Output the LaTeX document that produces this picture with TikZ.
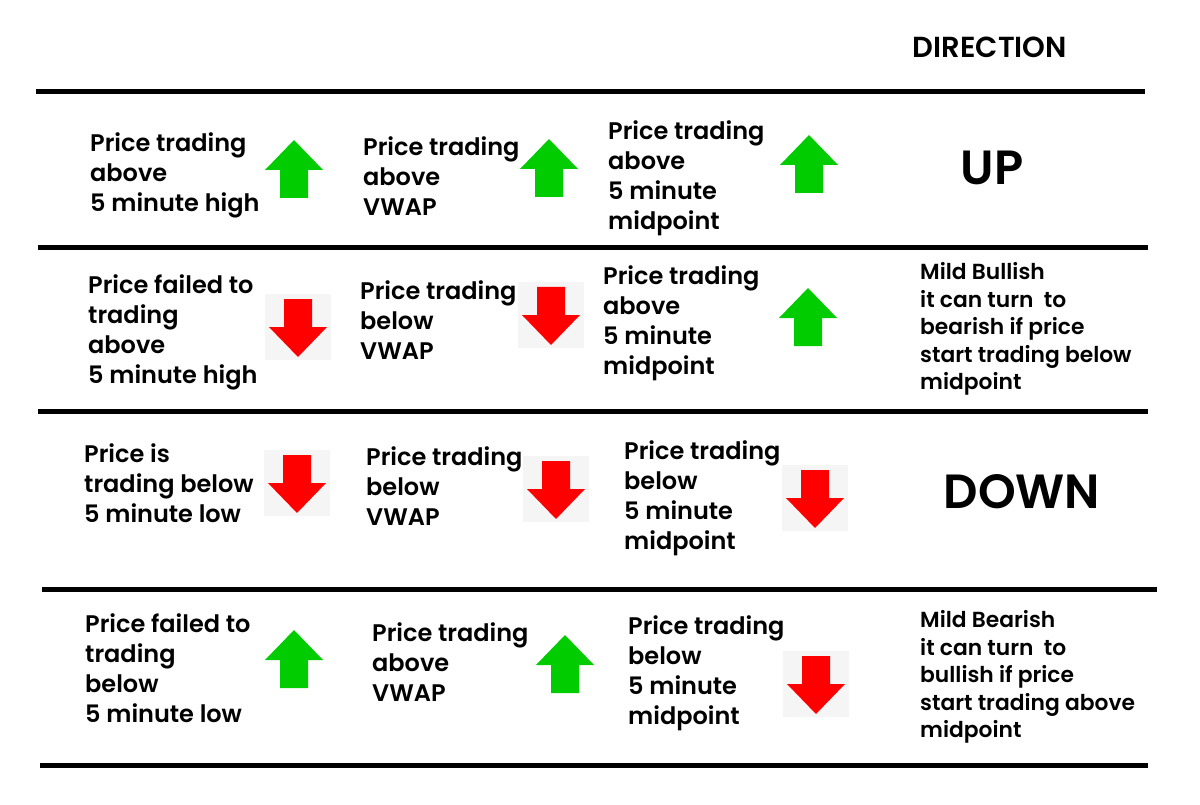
\documentclass[tikz,border=0pt]{standalone}
\usepackage{fontspec}
\setmainfont{Poppins}[UprightFont=* SemiBold,BoldFont=* SemiBold]
\begin{document}
\begin{tikzpicture}[x=1pt,y=-1pt,
  rule/.style={line width=5pt,black},
  txt/.style={anchor=west,align=left,inner sep=0pt,font=\fontsize{24}{30}\selectfont},
  small/.style={anchor=west,align=left,inner sep=0pt,font=\fontsize{21.8}{27.5}\selectfont},
  big/.style={inner sep=0pt,font=\fontsize{48}{50}\bfseries\selectfont}]
\useasboundingbox (0,0) rectangle (1200,805);
\fill[white] (0,0) rectangle (1200,805);
\newcommand\upA[1]{\begin{scope}[shift={(#1)}]\fill[fill={rgb,255:red,0;green,204;blue,0}] (0,-30)--(29,0)--(14,0)--(14,28)--(-14,28)--(-14,0)--(-29,0)--cycle;\end{scope}}
\newcommand\dnA[1]{\begin{scope}[shift={(#1)}]\fill[gray!8] (-33,-33) rectangle (33,33);\fill[red] (0,30)--(29,0)--(14,0)--(14,-28)--(-14,-28)--(-14,0)--(-29,0)--cycle;\end{scope}}
\node[inner sep=0pt,font=\fontsize{29}{30}\bfseries\selectfont] (dir) at (990,47) {DIRECTION};
\draw[rule] (36,92)--(1145,92);
\draw[rule] (38,248)--(1148,248);
\draw[rule] (38,411)--(1148,411);
\draw[rule] (42,589)--(1157,589);
\draw[rule] (40,765)--(1148,765);
% row1
\node[txt] (a1) at (90,175) {Price trading\\above\\5 minute high};
\upA{294,170}
\node[txt] (a2) at (363,176) {Price trading\\above\\VWAP};
\upA{549,169}
\node[txt] (a3) at (608,178) {Price trading\\above\\5 minute\\midpoint};
\upA{809,165}
\node[big] (up) at (992,168) {UP};
% row2
\node[txt] (b1) at (88,332) {Price failed to\\trading\\above\\5 minute high};
\dnA{298,327}
\node[txt] (b2) at (360,320) {Price trading\\below\\VWAP};
\dnA{551,315}
\node[txt] (b3) at (603,323) {Price trading\\above\\5 minute\\midpoint};
\upA{808,318}
\node[small] (b4) at (920,329) {Mild Bullish\\it can turn \ to\\bearish if price\\start trading below\\midpoint};
% row3
\node[txt] (c1) at (84,483) {Price is\\trading below\\5 minute low};
\dnA{297,483}
\node[txt] (c2) at (366,486) {Price trading\\below\\VWAP};
\dnA{556,489}
\node[txt] (c3) at (624,498) {Price trading\\below\\5 minute\\midpoint};
\dnA{815,498}
\node[big] (down) at (1022,492) {DOWN};
% row4
\node[txt] (d1) at (85,668) {Price failed to\\trading\\below\\5 minute low};
\upA{294,660}
\node[txt] (d2) at (372,662) {Price trading\\above\\VWAP};
\upA{565,665}
\node[txt] (d3) at (628,673) {Price trading\\below\\5 minute\\midpoint};
\dnA{816,684}
\node[small] (d4) at (920,677) {Mild Bearish\\it can turn \ to\\bullish if price\\start trading above\\midpoint};
\end{tikzpicture}
\end{document}
